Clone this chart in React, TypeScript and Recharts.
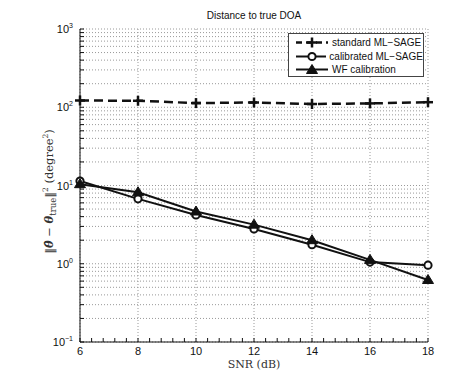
import { LineChart, Line, XAxis, YAxis, CartesianGrid, Legend } from 'recharts'

// SNR (dB) on the x axis
const snrValues = [6, 8, 10, 12, 14, 16, 18]

// distance to true DOA, degree^2
const standardSage = [122, 121, 113, 115, 110, 112, 116]
const calibratedSage = [11.4, 6.75, 4.2, 2.78, 1.75, 1.05, 0.96]
const wfCalibration = [10.4, 8.2, 4.65, 3.16, 2.0, 1.12, 0.62]

const yDecades = [0.1, 1, 10, 100, 1000]
const yExponents = ['\u22121', '0', '1', '2', '3']

const seriesNames = ['standard ML\u2212SAGE', 'calibrated ML\u2212SAGE', 'WF calibration']

const data = snrValues.map((snr, i) => ({
  snr,
  standard: standardSage[i],
  calibrated: calibratedSage[i],
  wf: wfCalibration[i],
}))

// minor ticks: 0.4 dB steps, 2..9 within each decade
const xMinor: number[] = []
for (let i = 0; i < snrValues.length - 1; i++) {
  for (let k = 1; k < 5; k++) xMinor.push(snrValues[i] + k * 0.4)
}
const yMinor: number[] = []
for (let i = 0; i < yDecades.length - 1; i++) {
  for (let k = 2; k < 10; k++) yMinor.push(yDecades[i] * k)
}
const xTicks = [...snrValues, ...xMinor].sort((a, b) => a - b)
const yTicks = [...yDecades, ...yMinor].sort((a, b) => a - b)

const INK = '#111'
const SANS = '"Liberation Sans", Arial, sans-serif'
const SERIF = '"DejaVu Serif", "Liberation Serif", serif'

const noLabel = () => <g />

function XTick(props: any) {
  const { x, y, payload } = props
  if (!snrValues.includes(payload.value)) return <g />
  return (
    <text x={x} y={y + 13} textAnchor="middle" fontFamily={SANS} fontSize={11} fill={INK}>
      {payload.value}
    </text>
  )
}

function YTick(props: any) {
  const { y, payload } = props
  const idx = yDecades.findIndex((d) => Math.abs(d - payload.value) < 1e-9)
  if (idx < 0) return <g />
  return (
    <text x={73} y={y + 4} textAnchor="end" fontFamily={SANS} fontSize={11} fill={INK}>
      <tspan>10</tspan>
      <tspan dy={-5} fontSize={7}>
        {yExponents[idx]}
      </tspan>
    </text>
  )
}

function PlusDot(props: any) {
  const { cx, cy } = props
  return (
    <g key={props.index}>
      <line x1={cx - 5} x2={cx + 5} y1={cy} y2={cy} stroke={INK} strokeWidth={2.5} />
      <line x1={cx} x2={cx} y1={cy - 5} y2={cy + 5} stroke={INK} strokeWidth={2.5} />
    </g>
  )
}

function CircleDot(props: any) {
  const { cx, cy } = props
  return <circle key={props.index} cx={cx} cy={cy} r={3.6} fill="#fff" stroke={INK} strokeWidth={2} />
}

function TriangleDot(props: any) {
  const { cx, cy } = props
  return (
    <path
      key={props.index}
      d={`M${cx},${cy - 5.5} L${cx + 5.5},${cy + 3.5} L${cx - 5.5},${cy + 3.5} Z`}
      fill={INK}
      stroke={INK}
      strokeWidth={1}
    />
  )
}

function XLabel(props: any) {
  const { viewBox } = props
  return (
    <text
      x={viewBox.x + viewBox.width / 2}
      y={viewBox.y + 26}
      textAnchor="middle"
      fontFamily={SERIF}
      fontSize={11}
      fill="#333"
    >
      SNR (dB)
    </text>
  )
}

function YLabel(props: any) {
  const { viewBox } = props
  const cy = viewBox.y + viewBox.height / 2 + 6
  return (
    <g transform={`translate(53, ${cy}) rotate(-90)`}>
      <text x={0} y={0} textAnchor="middle" fontFamily={SERIF} fontSize={11.5} fill="#333">
        <tspan>{'\u2016'}</tspan>
        <tspan fontWeight="bold" fontStyle="italic">{'\u03b8\u0302'}</tspan>
        <tspan>{' \u2212 '}</tspan>
        <tspan fontWeight="bold" fontStyle="italic">{'\u03b8'}</tspan>
        <tspan dy={3} fontSize={8.5}>true</tspan>
        <tspan dy={-3}>{'\u2016'}</tspan>
        <tspan dy={-5} fontSize={7.5}>2</tspan>
        <tspan dy={5}>{' (degree'}</tspan>
        <tspan dy={-5} fontSize={7.5}>2</tspan>
        <tspan dy={5}>)</tspan>
      </text>
    </g>
  )
}

function LegendSample({ index }: { index: number }) {
  return (
    <svg width={40} height={13} style={{ display: 'block' }}>
      <line
        x1={7}
        x2={39}
        y1={6.5}
        y2={6.5}
        stroke={INK}
        strokeWidth={index === 0 ? 2.5 : 2}
        strokeDasharray={index === 0 ? '6 4' : undefined}
      />
      {index === 0 && <PlusDot cx={23} cy={6.5} />}
      {index === 1 && <CircleDot cx={23} cy={6.5} />}
      {index === 2 && <TriangleDot cx={23} cy={7} />}
    </svg>
  )
}

function LegendBox() {
  return (
    <div
      style={{
        width: 136,
        height: 44,
        boxSizing: 'border-box',
        border: '1px solid #444',
        background: '#fff',
        paddingTop: 2,
      }}
    >
      {seriesNames.map((name, i) => (
        <div key={name} style={{ display: 'flex', alignItems: 'center', height: 13.5 }}>
          <LegendSample index={i} />
          <span
            style={{
              marginLeft: 3,
              fontFamily: SANS,
              fontSize: 10,
              color: INK,
              whiteSpace: 'nowrap',
              lineHeight: '13px',
            }}
          >
            {name}
          </span>
        </div>
      ))}
    </div>
  )
}

export default function App() {
  return (
    <div style={{ position: 'absolute', left: 0, top: 0, width: 474, height: 385, background: '#fff' }}>
      <div
        style={{
          position: 'absolute',
          left: 80,
          top: 10,
          width: 348,
          textAlign: 'center',
          fontFamily: SANS,
          fontSize: 10,
          lineHeight: '12px',
          color: INK,
        }}
      >
        Distance to true DOA
      </div>
      <LineChart width={474} height={385} data={data} margin={{ top: 29, right: 46, bottom: 13, left: 0 }}>
        <CartesianGrid
          stroke="#999"
          strokeDasharray="1 2"
          horizontalValues={yTicks}
          verticalValues={snrValues}
        />
        <XAxis
          dataKey="snr"
          type="number"
          domain={[6, 18]}
          ticks={xTicks}
          interval={0}
          height={30}
          tickSize={-4}
          tickMargin={4}
          tick={XTick}
          axisLine={{ stroke: INK }}
          tickLine={{ stroke: INK }}
          label={XLabel}
        />
        <XAxis
          xAxisId="top"
          orientation="top"
          type="number"
          domain={[6, 18]}
          ticks={xTicks}
          interval={0}
          height={0}
          tickSize={-4}
          tick={noLabel}
          axisLine={{ stroke: INK }}
          tickLine={{ stroke: INK }}
        />
        <YAxis
          scale="log"
          type="number"
          domain={[0.1, 1000]}
          allowDataOverflow
          ticks={yTicks}
          interval={0}
          width={80}
          tickSize={-4}
          tick={YTick}
          axisLine={{ stroke: INK }}
          tickLine={{ stroke: INK }}
          label={YLabel}
        />
        <YAxis
          yAxisId="right"
          orientation="right"
          scale="log"
          type="number"
          domain={[0.1, 1000]}
          allowDataOverflow
          ticks={yTicks}
          interval={0}
          width={0}
          tickSize={-4}
          tick={noLabel}
          axisLine={{ stroke: INK }}
          tickLine={{ stroke: INK }}
        />
        <Legend
          layout="vertical"
          align="center"
          verticalAlign="middle"
          wrapperStyle={{ left: 288, top: 33, width: 136, height: 44 }}
          content={LegendBox}
        />
        <Line
          type="linear"
          dataKey="standard"
          stroke={INK}
          strokeWidth={2.5}
          strokeDasharray="9 5"
          dot={PlusDot}
          activeDot={false}
          isAnimationActive={false}
        />
        <Line
          type="linear"
          dataKey="calibrated"
          stroke={INK}
          strokeWidth={2}
          dot={CircleDot}
          activeDot={false}
          isAnimationActive={false}
        />
        <Line
          type="linear"
          dataKey="wf"
          stroke={INK}
          strokeWidth={2}
          dot={TriangleDot}
          activeDot={false}
          isAnimationActive={false}
        />
      </LineChart>
    </div>
  )
}
